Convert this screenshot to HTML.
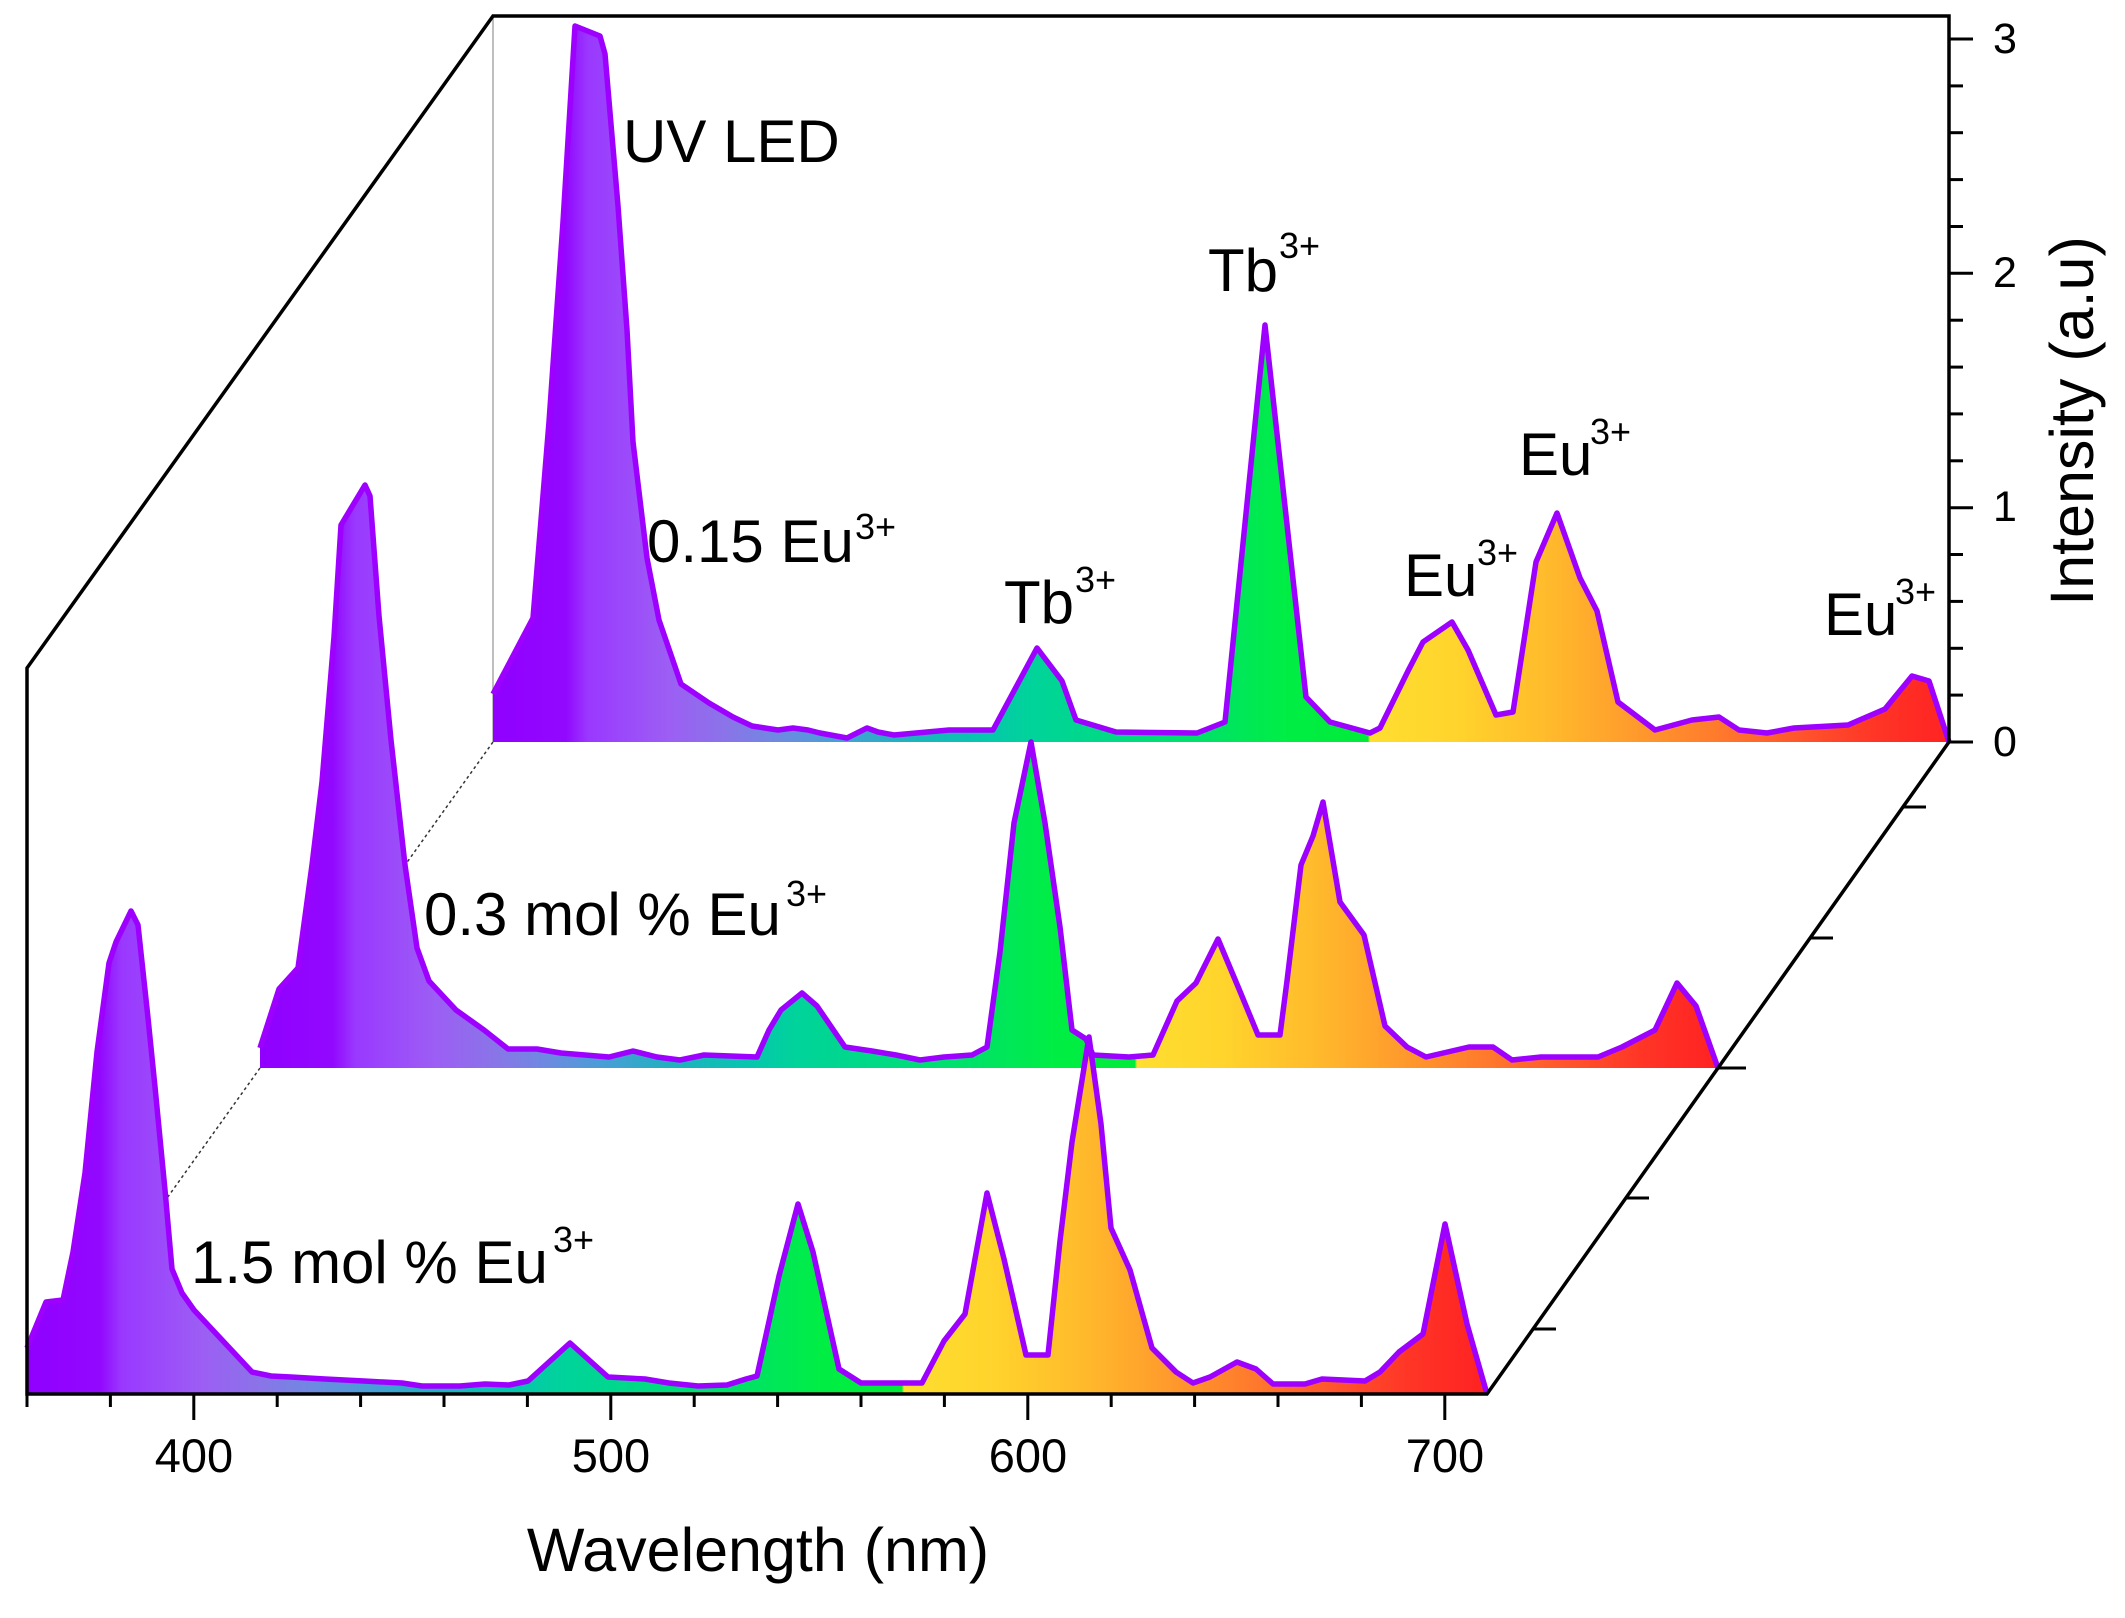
<!DOCTYPE html>
<html><head><meta charset="utf-8"><style>html,body{margin:0;padding:0;background:#fff;}svg{display:block;}text{font-family:"Liberation Sans",Arial,sans-serif;fill:#000;}</style></head>
<body>
<svg width="2125" height="1618" viewBox="0 0 2125 1618" xmlns="http://www.w3.org/2000/svg">
<defs>
<linearGradient id="g" gradientUnits="userSpaceOnUse" x1="0" y1="0" x2="1458" y2="0">
<stop offset="0" stop-color="#9000ff"/>
<stop offset="0.05" stop-color="#9208ff"/>
<stop offset="0.065" stop-color="#9a38ff"/>
<stop offset="0.12" stop-color="#9c5ef4"/>
<stop offset="0.16" stop-color="#8a74e8"/>
<stop offset="0.2" stop-color="#6a8ce0"/>
<stop offset="0.24" stop-color="#44a0d4"/>
<stop offset="0.28" stop-color="#22b0c0"/>
<stop offset="0.33" stop-color="#08c4b0"/>
<stop offset="0.37" stop-color="#00d49a"/>
<stop offset="0.43" stop-color="#00da82"/>
<stop offset="0.49" stop-color="#00e266"/>
<stop offset="0.545" stop-color="#00ee44"/>
<stop offset="0.6" stop-color="#00ec3a"/>
<stop offset="0.6015" stop-color="#ffde30"/>
<stop offset="0.66" stop-color="#ffd42c"/>
<stop offset="0.72" stop-color="#ffbc2c"/>
<stop offset="0.78" stop-color="#ff9c2c"/>
<stop offset="0.84" stop-color="#ff7a2c"/>
<stop offset="0.9" stop-color="#ff522c"/>
<stop offset="0.95" stop-color="#ff3426"/>
<stop offset="1" stop-color="#ff2222"/>
</linearGradient>
</defs>
<rect x="0" y="0" width="2125" height="1618" fill="#fff"/>

<line x1="493" y1="16" x2="493" y2="742" stroke="#aaaaaa" stroke-width="1.5"/>

<!-- Back layer -->
<g transform="translate(493,742)">
<path fill="url(#g)" d="M0,0 L0,-48 40,-124 56,-320 70,-520 82,-716 107,-706 112,-688 125,-536 134,-412 140,-300 154,-184 166,-122 188,-58 216,-39 240,-25 259,-16 285,-12 300,-14 315,-12 327,-9 354,-4 374,-14 385,-10 401,-7 456,-12 500,-12 544,-94 569,-61 583,-22 623,-10 704,-9 732,-20 772,-417 813,-45 837,-20 877,-9 887,-14 915,-71 930,-100 959,-120 975,-92 1003,-27 1020,-30 1043,-180 1064,-229 1087,-164 1104,-131 1125,-40 1162,-12 1199,-22 1226,-25 1246,-12 1274,-9 1301,-14 1355,-17 1392,-33 1419,-66 1436,-61 1456,0 Z"/>
<polyline fill="none" stroke="#9d00ff" stroke-width="5.5" stroke-linejoin="round" points="0,-48 40,-124 56,-320 70,-520 82,-716 107,-706 112,-688 125,-536 134,-412 140,-300 154,-184 166,-122 188,-58 216,-39 240,-25 259,-16 285,-12 300,-14 315,-12 327,-9 354,-4 374,-14 385,-10 401,-7 456,-12 500,-12 544,-94 569,-61 583,-22 623,-10 704,-9 732,-20 772,-417 813,-45 837,-20 877,-9 887,-14 915,-71 930,-100 959,-120 975,-92 1003,-27 1020,-30 1043,-180 1064,-229 1087,-164 1104,-131 1125,-40 1162,-12 1199,-22 1226,-25 1246,-12 1274,-9 1301,-14 1355,-17 1392,-33 1419,-66 1436,-61 1456,0"/>
</g>

<line x1="493" y1="742" x2="260" y2="1068" stroke="#333" stroke-width="1.5" stroke-dasharray="3,3"/>

<!-- Middle layer -->
<g transform="translate(260,1068)">
<path fill="url(#g)" d="M0,0 L0,-20 19,-79 38,-100 52,-203 62,-286 74,-431 81,-543 105,-583 110,-572 119,-452 131,-328 145,-203 157,-120 169,-87 196,-58 224,-38 248,-19 277,-19 301,-15 325,-13 349,-11 373,-17 397,-11 420,-8 444,-13 497,-11 509,-38 521,-58 542,-75 557,-62 585,-21 612,-17 636,-13 660,-8 684,-11 712,-13 727,-21 740,-116 754,-245 771,-326 785,-245 800,-141 812,-38 826,-29 833,-13 869,-11 893,-13 917,-67 936,-85 958,-129 979,-79 998,-33 1020,-33 1027,-87 1041,-203 1053,-232 1063,-266 1080,-166 1104,-133 1125,-42 1147,-21 1166,-11 1209,-21 1233,-21 1252,-8 1281,-11 1338,-11 1362,-21 1395,-38 1417,-85 1436,-62 1458,0 Z"/>
<polyline fill="none" stroke="#9d00ff" stroke-width="5.5" stroke-linejoin="round" points="0,-20 19,-79 38,-100 52,-203 62,-286 74,-431 81,-543 105,-583 110,-572 119,-452 131,-328 145,-203 157,-120 169,-87 196,-58 224,-38 248,-19 277,-19 301,-15 325,-13 349,-11 373,-17 397,-11 420,-8 444,-13 497,-11 509,-38 521,-58 542,-75 557,-62 585,-21 612,-17 636,-13 660,-8 684,-11 712,-13 727,-21 740,-116 754,-245 771,-326 785,-245 800,-141 812,-38 826,-29 833,-13 869,-11 893,-13 917,-67 936,-85 958,-129 979,-79 998,-33 1020,-33 1027,-87 1041,-203 1053,-232 1063,-266 1080,-166 1104,-133 1125,-42 1147,-21 1166,-11 1209,-21 1233,-21 1252,-8 1281,-11 1338,-11 1362,-21 1395,-38 1417,-85 1436,-62 1458,0"/>
</g>

<line x1="260" y1="1068" x2="27" y2="1394" stroke="#333" stroke-width="1.5" stroke-dasharray="3,3"/>

<!-- Front layer -->
<g transform="translate(27,1394)">
<path fill="url(#g)" d="M0,0 L0,-46 19,-92 36,-94 46,-142 58,-221 70,-342 82,-431 89,-452 104,-483 111,-469 121,-376 128,-307 138,-204 145,-125 155,-101 167,-84 196,-53 225,-22 244,-18 264,-17 298,-15 337,-13 375,-11 395,-8 433,-8 458,-10 482,-9 501,-13 543,-51 581,-17 618,-15 642,-11 671,-8 700,-9 719,-15 730,-18 752,-118 771,-190 786,-142 812,-25 834,-11 895,-11 917,-53 938,-80 960,-201 977,-135 999,-39 1021,-39 1033,-153 1045,-252 1062,-357 1074,-270 1084,-166 1103,-124 1125,-46 1149,-22 1166,-11 1183,-17 1210,-32 1229,-25 1246,-10 1278,-10 1295,-15 1338,-13 1353,-22 1372,-42 1396,-60 1418,-170 1440,-70 1460,0 Z"/>
<polyline fill="none" stroke="#9d00ff" stroke-width="5.5" stroke-linejoin="round" points="0,-46 19,-92 36,-94 46,-142 58,-221 70,-342 82,-431 89,-452 104,-483 111,-469 121,-376 128,-307 138,-204 145,-125 155,-101 167,-84 196,-53 225,-22 244,-18 264,-17 298,-15 337,-13 375,-11 395,-8 433,-8 458,-10 482,-9 501,-13 543,-51 581,-17 618,-15 642,-11 671,-8 700,-9 719,-15 730,-18 752,-118 771,-190 786,-142 812,-25 834,-11 895,-11 917,-53 938,-80 960,-201 977,-135 999,-39 1021,-39 1033,-153 1045,-252 1062,-357 1074,-270 1084,-166 1103,-124 1125,-46 1149,-22 1166,-11 1183,-17 1210,-32 1229,-25 1246,-10 1278,-10 1295,-15 1338,-13 1353,-22 1372,-42 1396,-60 1418,-170 1440,-70 1460,0"/>
</g>

<!-- Frame -->
<path d="M27,1394 L27,668 L493,16 L1949,16 L1949,742 L1487,1394 Z" fill="none" stroke="#000" stroke-width="3.5" stroke-linejoin="miter"/>

<!-- Bottom ticks -->
<g stroke="#000" stroke-width="3">
<line x1="27" y1="1394" x2="27" y2="1407"/>
<line x1="110.4" y1="1394" x2="110.4" y2="1407"/>
<line x1="193.8" y1="1394" x2="193.8" y2="1420"/>
<line x1="277.2" y1="1394" x2="277.2" y2="1407"/>
<line x1="360.6" y1="1394" x2="360.6" y2="1407"/>
<line x1="444" y1="1394" x2="444" y2="1407"/>
<line x1="527.4" y1="1394" x2="527.4" y2="1407"/>
<line x1="610.8" y1="1394" x2="610.8" y2="1420"/>
<line x1="694.2" y1="1394" x2="694.2" y2="1407"/>
<line x1="777.6" y1="1394" x2="777.6" y2="1407"/>
<line x1="861" y1="1394" x2="861" y2="1407"/>
<line x1="944.4" y1="1394" x2="944.4" y2="1407"/>
<line x1="1027.8" y1="1394" x2="1027.8" y2="1420"/>
<line x1="1111.2" y1="1394" x2="1111.2" y2="1407"/>
<line x1="1194.6" y1="1394" x2="1194.6" y2="1407"/>
<line x1="1278" y1="1394" x2="1278" y2="1407"/>
<line x1="1361.4" y1="1394" x2="1361.4" y2="1407"/>
<line x1="1444.8" y1="1394" x2="1444.8" y2="1420"/>
</g>

<!-- Right axis ticks -->
<g stroke="#000" stroke-width="3">
<line x1="1949" y1="742" x2="1973" y2="742"/>
<line x1="1949" y1="695.1" x2="1963" y2="695.1"/>
<line x1="1949" y1="648.3" x2="1963" y2="648.3"/>
<line x1="1949" y1="601.4" x2="1963" y2="601.4"/>
<line x1="1949" y1="554.5" x2="1963" y2="554.5"/>
<line x1="1949" y1="507.7" x2="1973" y2="507.7"/>
<line x1="1949" y1="460.8" x2="1963" y2="460.8"/>
<line x1="1949" y1="413.9" x2="1963" y2="413.9"/>
<line x1="1949" y1="367.1" x2="1963" y2="367.1"/>
<line x1="1949" y1="320.2" x2="1963" y2="320.2"/>
<line x1="1949" y1="273.3" x2="1973" y2="273.3"/>
<line x1="1949" y1="226.5" x2="1963" y2="226.5"/>
<line x1="1949" y1="179.6" x2="1963" y2="179.6"/>
<line x1="1949" y1="132.7" x2="1963" y2="132.7"/>
<line x1="1949" y1="85.9" x2="1963" y2="85.9"/>
<line x1="1949" y1="39" x2="1973" y2="39"/>
</g>

<!-- Depth axis ticks -->
<g stroke="#000" stroke-width="3">
<line x1="1533" y1="1329" x2="1556" y2="1329"/>
<line x1="1626" y1="1198" x2="1649" y2="1198"/>
<line x1="1718" y1="1068" x2="1746" y2="1068"/>
<line x1="1810" y1="938" x2="1833" y2="938"/>
<line x1="1903" y1="807" x2="1926" y2="807"/>
</g>

<!-- Tick labels -->
<g font-size="47" text-anchor="middle">
<text x="194" y="1472">400</text>
<text x="611" y="1472">500</text>
<text x="1028" y="1472">600</text>
<text x="1445" y="1472">700</text>
</g>
<g font-size="43" text-anchor="middle">
<text x="2005" y="53">3</text>
<text x="2005" y="287">2</text>
<text x="2005" y="521">1</text>
<text x="2005" y="756">0</text>
</g>

<!-- Axis titles -->
<text x="758" y="1571" font-size="61" text-anchor="middle">Wavelength (nm)</text>
<text transform="translate(2093,421) rotate(-90)" font-size="61" text-anchor="middle">Intensity (a.u)</text>

<!-- Annotations -->
<g font-size="60">
<text x="623" y="162">UV LED</text>
<text x="647" y="562">0.15 Eu</text>
<text x="424" y="935">0.3 mol % Eu</text>
<text x="191" y="1283">1.5 mol % Eu</text>
<text x="1004" y="623">Tb</text>
<text x="1208" y="291">Tb</text>
<text x="1404" y="596">Eu</text>
<text x="1519" y="475">Eu</text>
<text x="1824" y="635">Eu</text>
</g>
<g font-size="36">
<text x="855" y="539">3+</text>
<text x="786" y="906">3+</text>
<text x="553" y="1252">3+</text>
<text x="1075" y="592">3+</text>
<text x="1279" y="258">3+</text>
<text x="1477" y="565">3+</text>
<text x="1590" y="444">3+</text>
<text x="1895" y="604">3+</text>
</g>
</svg>
</body></html>
